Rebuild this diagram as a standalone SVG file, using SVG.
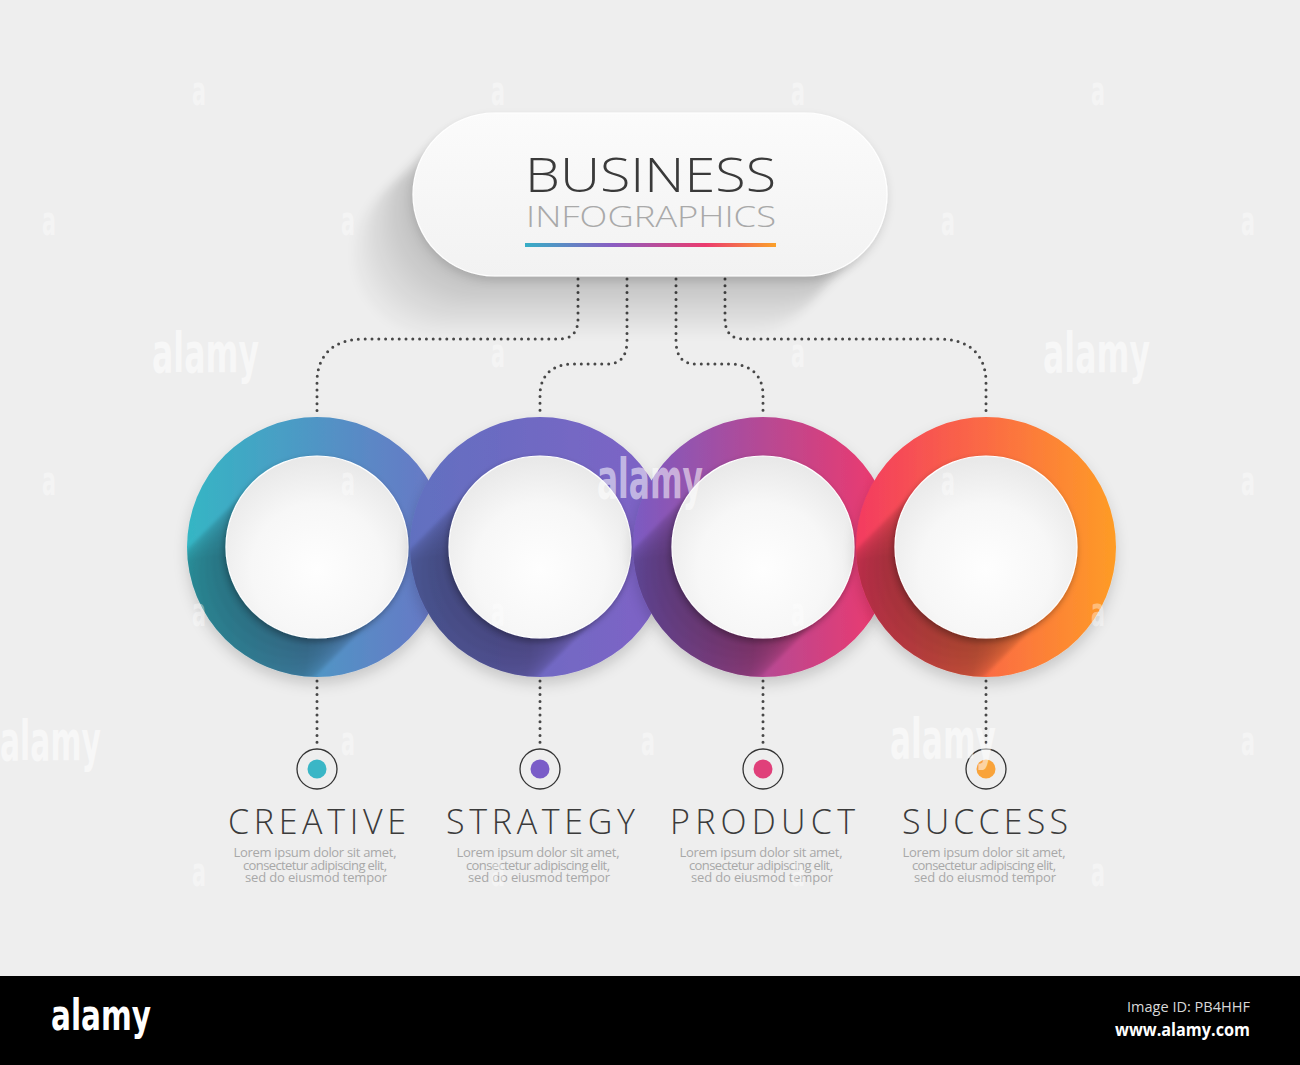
<svg xmlns="http://www.w3.org/2000/svg" xmlns:xlink="http://www.w3.org/1999/xlink" width="1300" height="1065" viewBox="0 0 1300 1065">
<defs>
<style>
.dot{fill:none;stroke:#474747;stroke-width:3;stroke-linecap:round;stroke-dasharray:0 6.8}
.lbl{font-family:"Open Sans","Lato","DejaVu Sans",sans-serif;font-weight:300;font-size:34px;fill:#3b3b3b}
.desc{font-family:"Open Sans","Lato","DejaVu Sans",sans-serif;font-size:13px;fill:#a8a8a8;text-anchor:middle}
.wm{font-family:"Liberation Sans Narrow","DejaVu Sans Condensed","Liberation Sans",sans-serif;font-weight:bold;fill:#ffffff}
.wmS{font-size:40px;text-anchor:middle;fill-opacity:0.4}
.wmB{font-size:56px;fill-opacity:0.55}
.ring{filter:url(#ringShadow)}
.inner{fill:url(#innerFill);stroke:#ffffff;stroke-width:1.2;filter:url(#innerShadow)}
.ring-dot{fill:none;stroke:#333333;stroke-width:1.3}
</style>
<linearGradient id="g1" x1="0" y1="0" x2="1" y2="0"><stop offset="0" stop-color="#35b6c4"/><stop offset="1" stop-color="#6b74c6"/></linearGradient>
<linearGradient id="g2" x1="0" y1="0" x2="1" y2="0"><stop offset="0" stop-color="#6170c0"/><stop offset="1" stop-color="#8062c6"/></linearGradient>
<linearGradient id="g3" x1="0" y1="0" x2="1" y2="0"><stop offset="0" stop-color="#7b5bc2"/><stop offset="0.5" stop-color="#b64994"/><stop offset="1" stop-color="#f2386a"/></linearGradient>
<linearGradient id="g4" x1="0" y1="0" x2="1" y2="0"><stop offset="0" stop-color="#f33b60"/><stop offset="0.5" stop-color="#fb6b44"/><stop offset="1" stop-color="#fe9c26"/></linearGradient>
<linearGradient id="barGrad" x1="0" y1="0" x2="1" y2="0"><stop offset="0" stop-color="#36aec6"/><stop offset="0.35" stop-color="#8a5cc2"/><stop offset="0.72" stop-color="#ec3b6e"/><stop offset="1" stop-color="#fba12a"/></linearGradient>
<radialGradient id="innerFill" cx="0.5" cy="0.62" r="0.6"><stop offset="0" stop-color="#fefefe"/><stop offset="0.6" stop-color="#f7f7f7"/><stop offset="1" stop-color="#e9e9e9"/></radialGradient>
<linearGradient id="pillFill" x1="0" y1="0" x2="0" y2="1"><stop offset="0" stop-color="#fbfbfb"/><stop offset="1" stop-color="#f2f2f2"/></linearGradient>
<filter id="ringShadow" x="-20%" y="-20%" width="140%" height="150%"><feDropShadow dx="0" dy="7" stdDeviation="7" flood-color="#000" flood-opacity="0.16"/></filter>
<filter id="innerShadow" x="-20%" y="-20%" width="140%" height="140%"><feDropShadow dx="-1" dy="3" stdDeviation="3" flood-color="#000" flood-opacity="0.32"/></filter>
<filter id="soft" x="-10%" y="-10%" width="120%" height="120%"><feGaussianBlur stdDeviation="1.5"/></filter>
<filter id="pillBlur" x="-20%" y="-30%" width="140%" height="160%"><feGaussianBlur stdDeviation="4"/></filter>
<filter id="pillShadow" x="-10%" y="-20%" width="120%" height="150%"><feDropShadow dx="0" dy="4" stdDeviation="4" flood-color="#000" flood-opacity="0.12"/></filter>
<circle id="disc" r="91"/>
<g id="ls" fill="#000000" fill-opacity="0.031">
<use href="#disc" x="-7" y="7"/><use href="#disc" x="-14" y="14"/><use href="#disc" x="-21" y="21"/><use href="#disc" x="-28" y="28"/><use href="#disc" x="-35" y="35"/><use href="#disc" x="-42" y="42"/><use href="#disc" x="-49" y="49"/><use href="#disc" x="-56" y="56"/><use href="#disc" x="-63" y="63"/><use href="#disc" x="-70" y="70"/><use href="#disc" x="-77" y="77"/><use href="#disc" x="-84" y="84"/><use href="#disc" x="-91" y="91"/><use href="#disc" x="-98" y="98"/>
</g>
<rect id="pillShape" x="413" y="113" width="474" height="163" rx="81.5"/>
<clipPath id="cr1"><circle cx="317" cy="547" r="130"/></clipPath>
<clipPath id="cr2"><circle cx="540" cy="547" r="130"/></clipPath>
<clipPath id="cr3"><circle cx="763" cy="547" r="130"/></clipPath>
<clipPath id="cr4"><circle cx="986" cy="547" r="130"/></clipPath>
</defs>

<rect x="0" y="0" width="1300" height="976" fill="#eeeeee"/>

<g id="connectors">
<path class="dot" d="M578,279 V318 C578,333 572,339 557,339 H363 C335,339 317,354 317,382 V416"/>
<path class="dot" d="M627,279 V340 C627,356 621,364 607,364 H572 C552,364 540,376 540,395 V416"/>
<path class="dot" d="M676,279 V340 C676,356 682,364 696,364 H731 C751,364 763,376 763,395 V416"/>
<path class="dot" d="M725,279 V318 C725,333 731,339 746,339 H940 C968,339 986,354 986,382 V416"/>
<path class="dot" d="M317,681 V748"/>
<path class="dot" d="M540,681 V748"/>
<path class="dot" d="M763,681 V748"/>
<path class="dot" d="M986,681 V748"/>
</g>

<g id="node-business">
<g filter="url(#pillBlur)" fill="#000000" fill-opacity="0.02">
<use href="#pillShape" x="-5" y="5"/><use href="#pillShape" x="-10" y="10"/><use href="#pillShape" x="-15" y="15"/><use href="#pillShape" x="-20" y="20"/><use href="#pillShape" x="-25" y="25"/><use href="#pillShape" x="-30" y="30"/><use href="#pillShape" x="-35" y="35"/><use href="#pillShape" x="-40" y="40"/><use href="#pillShape" x="-45" y="45"/><use href="#pillShape" x="-50" y="50"/><use href="#pillShape" x="-55" y="55"/><use href="#pillShape" x="-60" y="60"/>
</g>
<rect x="413" y="113" width="474" height="163" rx="81.5" fill="url(#pillFill)" stroke="#ffffff" stroke-width="1.2" filter="url(#pillShadow)"/>
<text x="525" y="192" font-family="Open Sans, Lato, DejaVu Sans, sans-serif" font-weight="300" font-size="48" fill="#3a3a3a" textLength="251" lengthAdjust="spacingAndGlyphs">BUSINESS</text>
<text x="526" y="227" font-family="Open Sans, Lato, DejaVu Sans, sans-serif" font-weight="300" font-size="30" fill="#a9a9a9" textLength="250" lengthAdjust="spacingAndGlyphs">INFOGRAPHICS</text>
<rect x="525" y="243" width="251" height="4" fill="url(#barGrad)"/>
</g>

<g id="node-creative">
<circle class="ring" cx="317" cy="547" r="130" fill="url(#g1)"/>
<g clip-path="url(#cr1)"><use href="#ls" x="317" y="547" filter="url(#soft)"/></g>
<circle class="inner" cx="317" cy="547" r="91"/>
<circle class="ring-dot" cx="317" cy="769" r="20"/>
<circle cx="317" cy="769" r="9.5" fill="#3ab6c6"/>
<text class="lbl" x="228" y="834" textLength="178" lengthAdjust="spacing">CREATIVE</text>
<text class="desc" x="315" y="857" textLength="163">Lorem ipsum dolor sit amet,</text>
<text class="desc" x="315" y="869.5" textLength="144">consectetur adipiscing elit,</text>
<text class="desc" x="316" y="882" textLength="142">sed do eiusmod tempor</text>
</g>

<g id="node-strategy">
<circle class="ring" cx="540" cy="547" r="130" fill="url(#g2)"/>
<g clip-path="url(#cr2)"><use href="#ls" x="540" y="547" filter="url(#soft)"/></g>
<circle class="inner" cx="540" cy="547" r="91"/>
<circle class="ring-dot" cx="540" cy="769" r="20"/>
<circle cx="540" cy="769" r="9.5" fill="#7a5cc8"/>
<text class="lbl" x="446" y="834" textLength="189" lengthAdjust="spacing">STRATEGY</text>
<text class="desc" x="538" y="857" textLength="163">Lorem ipsum dolor sit amet,</text>
<text class="desc" x="538" y="869.5" textLength="144">consectetur adipiscing elit,</text>
<text class="desc" x="539" y="882" textLength="142">sed do eiusmod tempor</text>
</g>

<g id="node-product">
<circle class="ring" cx="763" cy="547" r="130" fill="url(#g3)"/>
<g clip-path="url(#cr3)"><use href="#ls" x="763" y="547" filter="url(#soft)"/></g>
<circle class="inner" cx="763" cy="547" r="91"/>
<circle class="ring-dot" cx="763" cy="769" r="20"/>
<circle cx="763" cy="769" r="9.5" fill="#e0407a"/>
<text class="lbl" x="670" y="834" textLength="185" lengthAdjust="spacing">PRODUCT</text>
<text class="desc" x="761" y="857" textLength="163">Lorem ipsum dolor sit amet,</text>
<text class="desc" x="761" y="869.5" textLength="144">consectetur adipiscing elit,</text>
<text class="desc" x="762" y="882" textLength="142">sed do eiusmod tempor</text>
</g>

<g id="node-success">
<circle class="ring" cx="986" cy="547" r="130" fill="url(#g4)"/>
<g clip-path="url(#cr4)"><use href="#ls" x="986" y="547" filter="url(#soft)"/></g>
<circle class="inner" cx="986" cy="547" r="91"/>
<circle class="ring-dot" cx="986" cy="769" r="20"/>
<circle cx="986" cy="769" r="9.5" fill="#f9a33a"/>
<text class="lbl" x="902" y="834" textLength="166" lengthAdjust="spacing">SUCCESS</text>
<text class="desc" x="984" y="857" textLength="163">Lorem ipsum dolor sit amet,</text>
<text class="desc" x="984" y="869.5" textLength="144">consectetur adipiscing elit,</text>
<text class="desc" x="985" y="882" textLength="142">sed do eiusmod tempor</text>
</g>

<g id="watermarks" class="wm">
<text class="wmB" x="152" y="372" textLength="107" lengthAdjust="spacingAndGlyphs">alamy</text>
<text class="wmB" x="1043" y="372" textLength="107" lengthAdjust="spacingAndGlyphs">alamy</text>
<text class="wmB" x="597" y="498" textLength="106" lengthAdjust="spacingAndGlyphs">alamy</text>
<text class="wmB" x="0" y="760" textLength="101" lengthAdjust="spacingAndGlyphs">alamy</text>
<text class="wmB" x="890" y="758" textLength="106" lengthAdjust="spacingAndGlyphs">alamy</text>
<text class="wmS" x="199" y="105" textLength="14" lengthAdjust="spacingAndGlyphs">a</text>
<text class="wmS" x="498" y="105" textLength="14" lengthAdjust="spacingAndGlyphs">a</text>
<text class="wmS" x="798" y="105" textLength="14" lengthAdjust="spacingAndGlyphs">a</text>
<text class="wmS" x="1098" y="105" textLength="14" lengthAdjust="spacingAndGlyphs">a</text>
<text class="wmS" x="49" y="235" textLength="14" lengthAdjust="spacingAndGlyphs">a</text>
<text class="wmS" x="348" y="235" textLength="14" lengthAdjust="spacingAndGlyphs">a</text>
<text class="wmS" x="948" y="235" textLength="14" lengthAdjust="spacingAndGlyphs">a</text>
<text class="wmS" x="1248" y="235" textLength="14" lengthAdjust="spacingAndGlyphs">a</text>
<text class="wmS" x="498" y="367" textLength="14" lengthAdjust="spacingAndGlyphs">a</text>
<text class="wmS" x="798" y="367" textLength="14" lengthAdjust="spacingAndGlyphs">a</text>
<text class="wmS" x="49" y="495" textLength="14" lengthAdjust="spacingAndGlyphs">a</text>
<text class="wmS" x="348" y="495" textLength="14" lengthAdjust="spacingAndGlyphs">a</text>
<text class="wmS" x="948" y="495" textLength="14" lengthAdjust="spacingAndGlyphs">a</text>
<text class="wmS" x="1248" y="495" textLength="14" lengthAdjust="spacingAndGlyphs">a</text>
<text class="wmS" x="199" y="626" textLength="14" lengthAdjust="spacingAndGlyphs">a</text>
<text class="wmS" x="498" y="626" textLength="14" lengthAdjust="spacingAndGlyphs">a</text>
<text class="wmS" x="798" y="626" textLength="14" lengthAdjust="spacingAndGlyphs">a</text>
<text class="wmS" x="1098" y="626" textLength="14" lengthAdjust="spacingAndGlyphs">a</text>
<text class="wmS" x="348" y="755" textLength="14" lengthAdjust="spacingAndGlyphs">a</text>
<text class="wmS" x="648" y="755" textLength="14" lengthAdjust="spacingAndGlyphs">a</text>
<text class="wmS" x="1248" y="755" textLength="14" lengthAdjust="spacingAndGlyphs">a</text>
<text class="wmS" x="199" y="886" textLength="14" lengthAdjust="spacingAndGlyphs">a</text>
<text class="wmS" x="498" y="886" textLength="14" lengthAdjust="spacingAndGlyphs">a</text>
<text class="wmS" x="798" y="886" textLength="14" lengthAdjust="spacingAndGlyphs">a</text>
<text class="wmS" x="1098" y="886" textLength="14" lengthAdjust="spacingAndGlyphs">a</text>
</g>

<g id="footer">
<rect x="0" y="976" width="1300" height="89" fill="#000000"/>
<text class="wm" x="51" y="1030" font-size="42" textLength="100" lengthAdjust="spacingAndGlyphs">alamy</text>
<text x="1250" y="1012" text-anchor="end" font-family="Open Sans, DejaVu Sans, sans-serif" font-size="15" fill="#d8d8d8" textLength="123" lengthAdjust="spacingAndGlyphs">Image ID: PB4HHF</text>
<text x="1250" y="1036" text-anchor="end" font-family="Open Sans, DejaVu Sans, sans-serif" font-weight="bold" font-size="17" fill="#ffffff" textLength="135" lengthAdjust="spacingAndGlyphs">www.alamy.com</text>
</g>
</svg>
